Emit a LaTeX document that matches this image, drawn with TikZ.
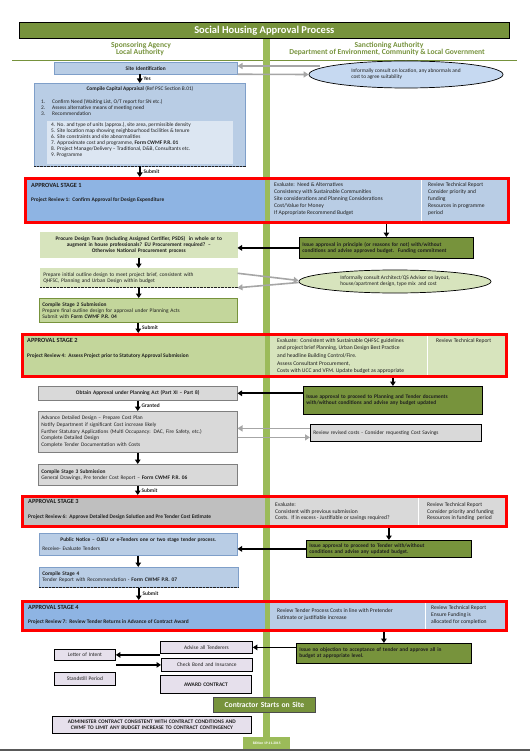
\documentclass[tikz,border=0pt]{standalone}
\usepackage{fontspec}
\setmainfont{Carlito}
\usetikzlibrary{shapes.geometric,arrows.meta,fit}

\definecolor{olive}{HTML}{77933C}
\definecolor{barGreen}{HTML}{9BBB59}
\definecolor{headGreen}{HTML}{76923C}
\definecolor{blueL}{HTML}{B9CDE5}
\definecolor{blueLL}{HTML}{DCE6F2}
\definecolor{blueM}{HTML}{8EB4E3}
\definecolor{blueEll}{HTML}{C6D9F1}
\definecolor{blueEdge}{HTML}{7F9FC9}
\definecolor{greenL}{HTML}{D7E4BD}
\definecolor{greenM}{HTML}{C3D69B}
\definecolor{grayL}{HTML}{D9D9D9}
\definecolor{grayM}{HTML}{BFBFBF}
\definecolor{grayEdge}{HTML}{7F7F7F}
\definecolor{lav}{HTML}{E6E0EC}
\definecolor{ink}{HTML}{1F1F1F}
\definecolor{arrGray}{HTML}{A6A6A6}

\newcommand{\bodyfont}{\fontsize{5.4}{6}\selectfont}
\newcommand{\stagefont}{\fontsize{5.6}{7}\selectfont}
\newcommand{\stagetitle}{\fontsize{6.3}{7}\selectfont\bfseries}

\begin{document}
\begin{tikzpicture}[x=1pt,y=-1pt,
  box/.style={rectangle,anchor=north west,inner xsep=3pt,inner ysep=1pt,font=\bodyfont,text=ink,line width=0.5pt,align=left},
  bluebox/.style={box,fill=blueL,draw=blueEdge},
  greenbox/.style={box,fill=greenL,draw=greenL},
  graybox/.style={box,fill=grayL,draw=grayEdge},
  lavbox/.style={box,fill=lav,draw=black,line width=0.8pt,align=center},
  issue/.style={box,fill=olive,draw=black,line width=0.8pt,font=\bodyfont\bfseries},
  fillrect/.style={rectangle,anchor=north west,inner sep=0pt},
  redframe/.style={draw=red,line width=3pt,inner sep=1.5pt},
  txt/.style={inner sep=0pt,font=\bodyfont,text=ink,align=left,anchor=north west},
  head/.style={inner sep=0pt,font=\fontsize{7.6}{9}\selectfont\bfseries,text=headGreen},
  lbl/.style={right,font=\bodyfont\bfseries,text=ink,inner sep=3pt},
  arr/.style={line width=1.6pt,-{Triangle[length=4.5pt,width=5.5pt]}},
  garr/.style={line width=1.6pt,arrGray,-{Triangle[length=5pt,width=6pt]}}]
\useasboundingbox (0,0) rectangle (530,751);
%%%% frame of the page
\draw[headGreen,line width=0.6pt] (12,60.5) -- (517,60.5);
\fill[barGreen] (263,38) rectangle (270,737);
\node[anchor=north west,fill=olive,draw=black,line width=0.6pt,minimum width=490pt,minimum height=16pt,inner sep=0pt,
  font=\fontsize{10.5}{12}\selectfont\bfseries,text=white] (title) at (19,22) {Social Housing Approval Process};
\node[head] (sponsor) at (141,45) {Sponsoring Agency};
\node[head] (localauth) at (140,52) {Local Authority};
\node[head] (sanction) at (389,45) {Sanctioning Authority};
\node[head] (dept) at (387,52) {Department of Environment, Community \& Local Government};
%%%% capital appraisal
\node[bluebox,text width=177pt,minimum height=12pt,align=center,font=\bodyfont\bfseries] (site) at (54,62) {Site Identification};
\node[ellipse,draw=black,line width=0.7pt,fill=blueEll,minimum width=194pt,minimum height=27pt,inner sep=0pt,
  font=\bodyfont,text=ink,align=left] (siteell) at (406,74.5) {Informally consult on location, any abnormals and\\cost to agree suitability};
\coordinate (sitein) at (320,66);
\draw[garr] (sitein) -- (sitein -| site.east);
\draw[garr] ([yshift=-6pt]site.east) -- (siteell.west);
\node[bluebox,text width=205pt,minimum height=83pt] (capital) at (34,83) {};
\node[fillrect,fill=blueLL,minimum width=186pt,minimum height=43pt] (capinner) at (47,121) {};
\draw[densely dotted,ink] (capital.south west) -- (capital.south east);
\node[txt,anchor=north] (captitle) at (140,86.5) {\textbf{Compile Capital Appraisal} (Ref PSC Section B.01)};
\node[txt] (capA) at (41,99.5) {\makebox[11pt][l]{1.}Confirm Need (Waiting List, O/T report for SN etc.)\\
  \makebox[11pt][l]{2.}Assess alternative means of meeting need\\
  \makebox[11pt][l]{3.}Recommendation};
\node[txt] (capB) at (51,122.5) {\makebox[6pt][l]{4.}No. and type of units (approx.), site area, permissible density\\
  \makebox[6pt][l]{5.}Site location map showing neighbourhood facilities \& tenure\\
  \makebox[6pt][l]{6.}Site constraints and site abnormalities\\
  \makebox[6pt][l]{7.}Approximate cost and programme, \textbf{Form CWMF P.R. 01}\\
  \makebox[6pt][l]{8.}Project Manage/Delivery -- Traditional, D\&B, Consultants etc.\\
  \makebox[5.5pt][l]{9.}Programme};
\draw[arr] (capital.north |- site.south) -- (capital.north) node[lbl,midway]{Yes};
%%%% approval stage 1
\node[fillrect,fill=blueM,minimum width=238pt,minimum height=41pt] (s1L) at (27,180) {};
\node[fillrect,fill=blueL,minimum width=151pt,minimum height=41pt] (s1M) at (270,180) {};
\node[fillrect,fill=blueL,minimum width=85pt,minimum height=41pt] (s1R) at (422,180) {};
\node[redframe,fit=(s1L)(s1R)] (stage1) {};
\node[txt,font=\stagetitle] (s1Lt) at (31,183.5) {APPROVAL STAGE 1};
\node[txt,font=\bodyfont\bfseries] (s1Lr) at (31,197.5) {Project Review 1:\ \ Confirm Approval for Design Expenditure};
\node[txt,font=\stagefont] (s1Mt) at (274,182.5) {Evaluate:\ \ Need \& Alternatives\\Consistency with Sustainable Communities\\
  Site considerations and Planning Considerations\\Cost/Value for Money\\If Appropriate Recommend Budget};
\node[txt,font=\stagefont] (s1Rt) at (428,182.5) {Review Technical Report\\Consider priority and\\funding\\Resources in programme\\period};
\draw[arr] (capital.south) -- (capital.south |- stage1.north) node[lbl,midway]{Submit};
%%%% design
\node[issue,text width=168pt,minimum height=21pt] (issue1) at (299,237) {Issue approval in principle (or reasons for not) with/without\\
  conditions and advise approved budget.\ \ Funding commitment};
\draw[arr] (stage1.south -| issue1.north) -- (issue1.north);
\node[greenbox,text width=191pt,minimum height=25pt,align=center,font=\bodyfont\bfseries] (procure) at (40,232)
  {Procure Design Team (Including Assigned Certifier, PSDS)\ \ in whole or to\\augment in house professionals? EU Procurement required? --\\Otherwise National Procurement process};
\draw[arr] (issue1.west) -- (issue1.west -| procure.east);
\node[greenbox,text width=191pt,minimum height=19pt] (prepare) at (40,268)
  {Prepare initial outline design to meet project brief, consistent with\\QHFSC, Planning and Urban Design within budget};
\draw[densely dotted,ink] (prepare.south west) -- (prepare.south east);
\node[ellipse,draw=black,line width=0.7pt,fill=greenL,minimum width=192pt,minimum height=23pt,inner sep=0pt,
  font=\bodyfont,text=ink,align=left] (archell) at (395,281.5) {Informally consult Architect/QS Advisor on layout,\\house/apartment design, type mix\ \ and cost};
\draw[garr] ([yshift=4.5pt]prepare.east) -- ([yshift=1pt]archell.west);
\draw[garr] ([yshift=-1pt]archell.west) -- ([yshift=-10pt]prepare.east);
\node[box,fill=greenM,draw=olive,text width=192pt,minimum height=24pt] (cs2) at (39,298)
  {\textbf{Compile Stage 2 Submission}\\Prepare final outline design for approval under Planning Acts\\Submit with \textbf{Form CWMF P.R. 04}};
\draw[arr] (procure.south) -- (prepare.north);
\draw[arr] (prepare.south) -- (prepare.south |- cs2.north);
%%%% approval stage 2
\node[fillrect,fill=greenM,minimum width=241pt,minimum height=39pt] (s2L) at (24,336) {};
\node[fillrect,fill=greenL,minimum width=157pt,minimum height=39pt] (s2M) at (270,336) {};
\node[fillrect,fill=greenL,minimum width=77pt,minimum height=39pt] (s2R) at (428,336) {};
\node[redframe,fit=(s2L)(s2R)] (stage2) {};
\node[txt,font=\stagetitle] (s2Lt) at (27,338) {APPROVAL STAGE 2};
\node[txt,font=\bodyfont\bfseries] (s2Lr) at (27,353.5) {Project Review 4:\ \ Assess Project prior to Statutory Approval Submission};
\node[txt,font=\fontsize{5.6}{7.7}\selectfont] (s2Mt) at (277,338) {Evaluate:\ \ Consistent with Sustainable QHFSC guidelines\\
  and project brief Planning, Urban Design Best Practice\\and headline Building Control/Fire.\\Assess Consultant Procurement,\\
  Costs with UCC and VFM. Update budget as appropriate};
\node[txt,font=\stagefont] (s2Rt) at (436,338) {Review Technical Report};
\draw[arr] (cs2.south) -- (cs2.south |- stage2.north) node[lbl,midway]{Submit};
%%%% planning and detailed design
\node[issue,text width=173pt,minimum height=28pt] (issue2) at (303,386) {Issue approval to proceed to Planning and Tender documents\\
  with/without conditions and advise any budget updated};
\draw[arr] (stage2.south -| issue2.north) -- (issue2.north);
\node[graybox,text width=193pt,minimum height=14pt,align=center,font=\bodyfont\bfseries] (obtain) at (38,386)
  {Obtain Approval under Planning Act (Part XI -- Part 8)};
\draw[arr] (obtain.east -| issue2.west) -- (obtain.east);
\node[graybox,text width=193pt,minimum height=41pt,font=\fontsize{5.4}{6.7}\selectfont] (advance) at (38,411)
  {Advance Detailed Design -- Prepare Cost Plan\\Notify Department if significant Cost increase likely\\
  Further Statutory Applications (Multi Occupancy: DAC, Fire Safety, etc.)\\Complete Detailed Design\\Complete Tender Documentation with Costs};
\draw[arr] (obtain.south) -- (obtain.south |- advance.north) node[lbl,midway]{Granted};
\node[graybox,draw=black,line width=0.8pt,text width=165pt,minimum height=17pt] (review) at (310,424)
  {Review revised costs - Consider requesting Cost Savings};
\draw[garr] ([yshift=4.5pt]review.west) -- ([yshift=4.5pt]review.west -| advance.east);
\draw[garr] ([yshift=-4.5pt]review.west -| advance.east) -- ([yshift=-4.5pt]review.west);
\node[graybox,text width=193pt,minimum height=21pt] (cs3) at (38,464)
  {\textbf{Compile Stage 3 Submission}\\General Drawings, Pre tender Cost Report -- \textbf{Form CWMF P.R. 06}};
\draw[arr] (advance.south) -- (cs3.north);
%%%% approval stage 3
\node[fillrect,fill=grayM,minimum width=241pt,minimum height=27pt] (s3L) at (24,498) {};
\node[fillrect,fill=grayL,minimum width=148pt,minimum height=27pt] (s3M) at (270,498) {};
\node[fillrect,fill=grayL,minimum width=86pt,minimum height=27pt] (s3R) at (419,498) {};
\node[redframe,fit=(s3L)(s3R)] (stage3) {};
\node[txt,font=\stagetitle] (s3Lt) at (28,499.5) {APPROVAL STAGE 3};
\node[txt,font=\bodyfont\bfseries] (s3Lr) at (28,514.5) {Project Review 6:\ \ Approve Detailed Design Solution and Pre Tender Cost Estimate};
\node[txt,font=\fontsize{5.6}{6.6}\selectfont] (s3Mt) at (275,502.5) {Evaluate:\\Consistent with previous submission\\
  Costs.\ \ If in excess - Justifiable or savings required?};
\node[txt,font=\fontsize{5.6}{6.6}\selectfont] (s3Rt) at (427,502.5) {Review Technical Report\\Consider priority and funding\\Resources in funding\ \ period};
\draw[arr] (cs3.south) -- (cs3.south |- stage3.north) node[lbl,midway]{Submit};
%%%% tender
\node[issue,text width=159pt,minimum height=17pt] (issue3) at (306,540) {Issue approval to proceed to Tender with/without\\
  conditions and advise any updated budget.};
\draw[arr] (stage3.south -| issue3.north) -- (issue3.north);
\node[bluebox,text width=192pt,minimum height=22pt] (pubnote) at (39,533)
  {\makebox[192pt][c]{\bfseries Public Notice -- OJEU or e-Tenders one or two stage tender process.}\\[3.5pt]Receive- Evaluate Tenders};
\draw[arr] (issue3.west) -- (issue3.west -| pubnote.east);
\node[bluebox,text width=193pt,minimum height=20pt] (cs4) at (39,567)
  {\textbf{Compile Stage 4}\\Tender Report with Recommendation - \textbf{Form CWMF P.R. 07}};
\draw[densely dotted,ink] (cs4.south west) -- (cs4.south east);
\draw[arr] (pubnote.south) -- (pubnote.south |- cs4.north);
%%%% approval stage 4
\node[fillrect,fill=blueM,minimum width=241pt,minimum height=26pt] (s4L) at (24,603) {};
\node[fillrect,fill=blueL,minimum width=155pt,minimum height=26pt] (s4M) at (270,603) {};
\node[fillrect,fill=blueL,minimum width=79pt,minimum height=26pt] (s4R) at (426,603) {};
\node[redframe,fit=(s4L)(s4R)] (stage4) {};
\node[txt,font=\stagetitle] (s4Lt) at (28,605) {APPROVAL STAGE 4};
\node[txt,font=\bodyfont\bfseries] (s4Lr) at (28,619.5) {Project Review 7:\ \ Review Tender Returns in Advance of Contract Award};
\node[txt,font=\stagefont] (s4Mt) at (277,608.5) {Review Tender Process Costs in line with Pretender\\Estimate or justifiable increase};
\node[txt,font=\stagefont] (s4Rt) at (431,605.5) {Review Technical Report\\Ensure Funding is\\allocated for completion};
\draw[arr] (cs4.south) -- (cs4.south |- stage4.north) node[lbl,midway]{Submit};
%%%% contract award
\node[issue,text width=169pt,minimum height=20pt] (issue4) at (296,643) {Issue no objection to acceptance of tender and approve all in\\
  budget at appropriate level.};
\draw[arr] (stage4.south -| issue4.north) -- (issue4.north);
\node[lavbox,text width=86pt,minimum height=12pt] (advise) at (160,641) {Advise all Tenderers};
\draw[arr] (advise.east -| issue4.west) -- (advise.east);
\node[lavbox,text width=55pt,minimum height=11pt] (letter) at (54,649) {Letter of Intent};
\node[lavbox,text width=85pt,minimum height=13pt] (check) at (161,658) {Check Bond and Insurance};
\node[lavbox,text width=55pt,minimum height=13pt] (standstill) at (54,672) {Standstill Period};
\node[lavbox,text width=85pt,minimum height=18pt,font=\bodyfont\bfseries] (award) at (160,675) {AWARD CONTRACT\\[4pt]};
\draw[arr] (advise.west |- letter.east) -- (letter.east);
\draw[arr] (check.west -| letter.east) -- (check.west);
\node[box,fill=olive,draw=black!70,line width=0.8pt,text width=96pt,minimum height=15pt,align=center,
  font=\fontsize{7.6}{9}\selectfont\bfseries,text=white] (contractor) at (213,697) {Contractor Starts on Site};
\node[lavbox,text width=193pt,minimum height=17pt,font=\bodyfont\bfseries] (admin) at (52,716)
  {ADMINISTER CONTRACT CONSISTENT WITH CONTRACT CONDITIONS AND\\CWMF TO LIMIT ANY BUDGET INCREASE TO CONTRACT CONTINGENCY};
\node[anchor=north west,fill=barGreen,minimum width=47pt,minimum height=12pt,inner sep=0pt,text=white,
  font=\fontsize{3.6}{4}\selectfont\bfseries] (edition) at (243,737) {Edition 19.11.2015};
\fill[black!65] (0,749) rectangle (530,751);
\end{tikzpicture}
\end{document}
